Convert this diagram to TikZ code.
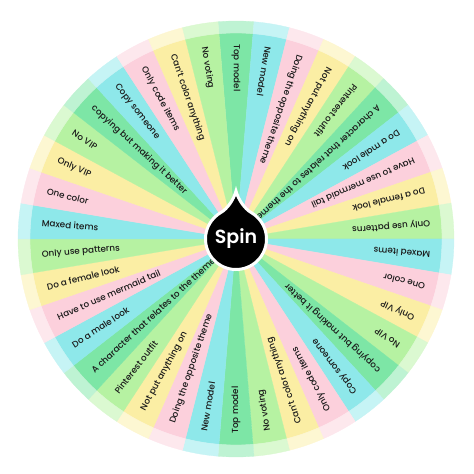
\documentclass[tikz,border=0pt]{standalone}
\usepackage{fontspec}
\setmainfont{Poppins}[UprightFont=* Medium, BoldFont=* SemiBold]
\definecolor{cM}{HTML}{7DE6A6}
\definecolor{cC}{HTML}{8EE8EA}
\definecolor{cP}{HTML}{FCD0DC}
\definecolor{cY}{HTML}{FBEEA4}
\definecolor{cL}{HTML}{B6F2A2}
\definecolor{txt}{HTML}{1A1A1A}
\tikzset{
  lbl/.style={anchor=west, inner sep=0pt, text=txt, font=\fontsize{8.8}{10}\selectfont},
}
\def\items{Top model/cM, New model/cC, Doing the opposite theme/cP, Not put anything on/cY, Pinterest outfit/cL, A character that relates to the theme/cM, Do a male look/cC, Have to use mermaid tail/cP, Do a female look/cY, Only use patterns/cL, Maxed items/cC, One color/cP, Only VIP/cY, No VIP/cL, copying but making it better/cM, Copy someone/cC, Only code items/cP, Can't color anything/cY, No voting/cL}
\begin{document}
\begin{tikzpicture}[x=1pt,y=1pt]
\useasboundingbox (0,0) rectangle (474,474);
\begin{scope}[shift={(236,235)}]
\foreach \k in {0,1}{
  \foreach \lab/\col [count=\i from 0] in \items {
    \pgfmathsetmacro{\a}{90-(\i+19*\k)*360/38}
    \pgfmathsetmacro{\aa}{\a-4.7368}
    \pgfmathsetmacro{\ab}{\a+4.7368}
    \fill[\col, draw=\col, line width=0.3pt] (0,0) -- (\aa:206) arc[start angle=\aa, end angle=\ab, radius=206] -- cycle;
    \fill[\col!50!white, draw=\col!50!white, line width=0.3pt] (\aa:206) arc[start angle=\aa, end angle=\ab, radius=206] -- (\ab:218) arc[start angle=\ab, end angle=\aa, radius=218] -- cycle;
  }
}
\foreach \k in {0,1}{
  \foreach \lab/\col [count=\i from 0] in \items {
    \pgfmathsetmacro{\a}{90-(\i+19*\k)*360/38}
    \node[lbl, rotate=\a+180] (l\i-\k) at (\a:195) {\lab};
  }
}
\filldraw[fill=black, draw=white, line width=3pt]
  (0,48) .. controls (2,40) and (8.3,30.4) .. (15.25,26.4)
  arc[start angle=60, end angle=-240, radius=30.5]
  .. controls (-8.3,30.4) and (-2,40) .. cycle;
\node[text=white, font=\fontsize{19}{22}\selectfont\bfseries, inner sep=0pt] (spin) at (0,0) {Spin};
\end{scope}
\end{tikzpicture}
\end{document}
